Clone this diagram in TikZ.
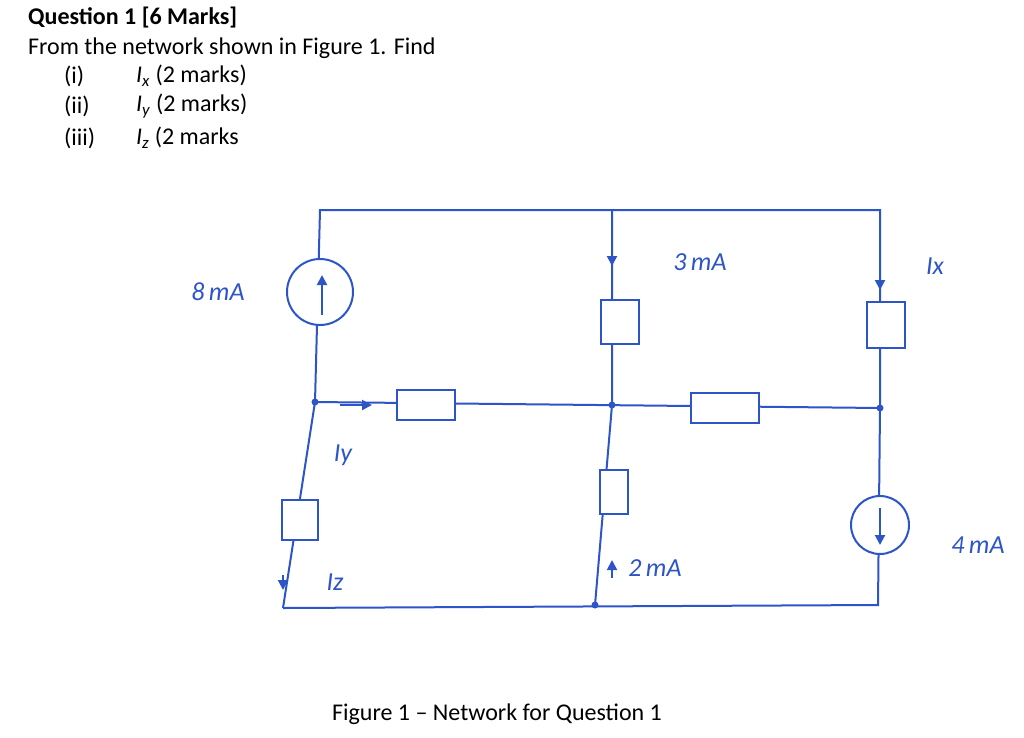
\documentclass[tikz,border=0pt]{standalone}
\usepackage{fontspec}
\setmainfont{Carlito}
\usetikzlibrary{arrows.meta}
\definecolor{pen}{RGB}{45,85,200}
\begin{document}
\begin{tikzpicture}[x=1pt,y=-1pt,
  w/.style={draw=pen,line width=2pt},
  res/.style={draw=pen,line width=2pt,fill=white,minimum width=#1},
  src/.style={circle,draw=pen,line width=2pt,fill=white,minimum size=66pt},
  lab/.style={text=pen,font=\itshape\fontsize{26}{26}\selectfont},
  dot/.style={circle,fill=pen,inner sep=0pt,minimum size=7pt},
  arr/.style={-{Triangle[length=10pt,width=10pt]},draw=pen,line width=2pt},
  txt/.style={font=\fontsize{24}{28}\selectfont,anchor=west,inner sep=0pt}]
\useasboundingbox (0,0) rectangle (1024,737);
% text
\node[txt,font=\bfseries\fontsize{24}{28}\selectfont] (q) at (28,18) {Question 1 [6 Marks]};
\node[txt] (f) at (28,48) {From the network shown in Figure 1. Find};
\node[txt] (i1) at (64,76) {(i)};
\node[txt] (i2) at (64,106) {(ii)};
\node[txt] (i3) at (64,138) {(iii)};
\node[txt] (t1) at (136,76) {\textit{I}\textsubscript{\textit{x}} (2 marks)};
\node[txt] (t2) at (136,106) {\textit{I}\textsubscript{\textit{y}} (2 marks)};
\node[txt] (t3) at (136,138) {\textit{I}\textsubscript{\textit{z}} (2 marks};
\node[font=\fontsize{24}{28}\selectfont] (cap) at (497,714) {Figure 1 -- Network for Question 1};
% coordinates
\coordinate (TL) at (320,210); \coordinate (TM) at (612,210); \coordinate (TR) at (880,210);
\coordinate (NL) at (315,402); \coordinate (NM) at (612,405); \coordinate (NR) at (880,408);
\coordinate (BL) at (283,608); \coordinate (BM) at (595,605); \coordinate (BR) at (878,605);
% wires
\draw[w] (BL) -- (NL) -- (TL) -- (TR) -- (NR) -- (BR) -- (BL);
\draw[w] (TM) -- (NM) -- (BM);
\draw[w] (NL) -- (NR);
% components
\node[src] (S8) at (320,292) {};
\draw[arr] (322,315) -- (322,275);
\node[src,minimum size=58pt] (S4) at (880,525) {};
\draw[arr] (880,508) -- (880,545);
\node[res=36pt,minimum height=40pt] (R1) at (300,520) {};
\node[res=58pt,minimum height=30pt] (R2) at (426,405) {};
\node[res=38pt,minimum height=44pt] (R3) at (620,322) {};
\node[res=68pt,minimum height=30pt] (R4) at (725,408) {};
\node[res=38pt,minimum height=46pt] (R5) at (886,325) {};
\node[res=28pt,minimum height=44pt] (R6) at (614,492) {};
% arrows on wires
\draw[arr] (612,250) -- (612,266);
\draw[arr] (880,274) -- (880,290);
\draw[arr] (340,405) -- (372,405);
\draw[arr] (612,578) -- (612,560);
\draw[arr] (283,575) -- (283,590);
% dots
\foreach \p in {NL,NM,NR,BM} \node[dot] at (\p) {};
% labels
\node[lab] (l8) at (218,292) {8\,mA};
\node[lab] (l3) at (700,262) {3\,mA};
\node[lab] (lx) at (935,266) {Ix};
\node[lab] (ly) at (343,455) {Iy};
\node[lab] (lz) at (335,582) {Iz};
\node[lab] (l2) at (655,568) {2\,mA};
\node[lab] (l4) at (978,545) {4\,mA};
\end{tikzpicture}
\end{document}
